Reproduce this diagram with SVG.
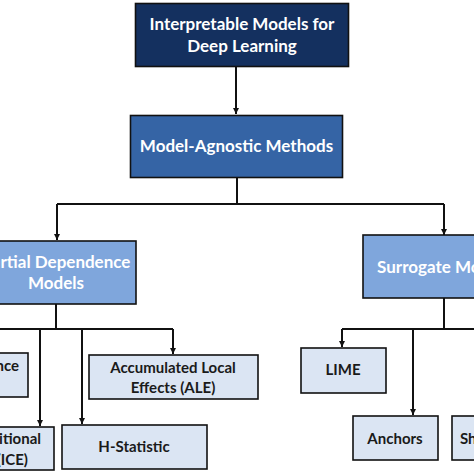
<svg xmlns="http://www.w3.org/2000/svg" width="474" height="474" viewBox="0 0 474 474">
<style>
.box{stroke:#111;stroke-width:1.6}
.l0{fill:#14305f}
.l1{fill:#3564a5}
.l2{fill:#7fa6dc}
.l3{fill:#dbe5f3}
.tw{font-family:Lato,"Open Sans",sans-serif;font-weight:bold;fill:#fff;text-anchor:middle}
.tb{font-family:Lato,"Open Sans",sans-serif;font-weight:bold;fill:#1a1a1a;text-anchor:middle;font-size:15px}
.c{fill:none;stroke:#111;stroke-width:2}
</style>
<defs>
<marker id="ah" viewBox="0 0 10 10" refX="10" refY="5" markerWidth="3.2" markerHeight="3.2" orient="auto" markerUnits="strokeWidth">
<path d="M0,0 L10,5 L0,10 z" fill="#111"/>
</marker>
</defs>
<rect width="474" height="474" fill="#fff"/>
<g id="connectors">
<path class="c" d="M236,67 V114" marker-end="url(#ah)"/>
<path class="c" d="M237,178 V204"/>
<path class="c" d="M57,204 H444"/>
<path class="c" d="M57,204 V240" marker-end="url(#ah)"/>
<path class="c" d="M444,204 V235" marker-end="url(#ah)"/>
<path class="c" d="M56,304 V329"/>
<path class="c" d="M-5,329 H173"/>
<path class="c" d="M173,329 V354" marker-end="url(#ah)"/>
<path class="c" d="M40,329 V426" marker-end="url(#ah)"/>
<path class="c" d="M82,329 V424" marker-end="url(#ah)"/>
<path class="c" d="M444,298 V329"/>
<path class="c" d="M342,329 H480"/>
<path class="c" d="M342,329 V347" marker-end="url(#ah)"/>
<path class="c" d="M413,329 V415" marker-end="url(#ah)"/>
</g>
<g id="n-root">
<rect class="box l0" x="135.5" y="3.5" width="213" height="63"/>
<text class="tw" x="242" y="30" font-size="17">Interpretable Models for</text>
<text class="tw" x="242" y="52" font-size="17">Deep Learning</text>
</g>
<g id="n-agnostic">
<rect class="box l1" x="130.5" y="115.5" width="212" height="62"/>
<text class="tw" x="236.5" y="152" font-size="17">Model-Agnostic Methods</text>
</g>
<g id="n-pdm">
<rect class="box l2" x="-25" y="241" width="161" height="63"/>
<text class="tw" x="56" y="268" font-size="17">Partial Dependence</text>
<text class="tw" x="56" y="289" font-size="17">Models</text>
</g>
<g id="n-surrogate">
<rect class="box l2" x="363" y="235" width="160" height="63"/>
<text class="tw" x="444" y="273" font-size="17">Surrogate Models</text>
</g>
<g id="n-pdp">
<rect class="box l3" x="-60" y="353" width="88" height="44"/>
<text class="tb" x="19" y="371" style="text-anchor:end">Partial Dependence</text>
</g>
<g id="n-ale">
<rect class="box l3" x="89" y="355" width="169" height="44"/>
<text class="tb" x="173" y="373">Accumulated Local</text>
<text class="tb" x="173" y="393">Effects (ALE)</text>
</g>
<g id="n-ice">
<rect class="box l3" x="-60" y="427" width="114" height="43"/>
<text class="tb" x="41" y="444" style="text-anchor:end">Individual Conditional</text>
<text class="tb" x="28" y="465" style="text-anchor:end">Expectation (ICE)</text>
</g>
<g id="n-hstat">
<rect class="box l3" x="62" y="425" width="145" height="44"/>
<text class="tb" x="134" y="452">H-Statistic</text>
</g>
<g id="n-lime">
<rect class="box l3" x="301" y="348" width="85" height="45"/>
<text class="tb" x="343" y="375">LIME</text>
</g>
<g id="n-anchors">
<rect class="box l3" x="353" y="416" width="85" height="44"/>
<text class="tb" x="395" y="444">Anchors</text>
</g>
<g id="n-shap">
<rect class="box l3" x="452" y="416" width="100" height="44"/>
<text class="tb" x="460" y="444" style="text-anchor:start">Shapley Values</text>
</g>
</svg>
